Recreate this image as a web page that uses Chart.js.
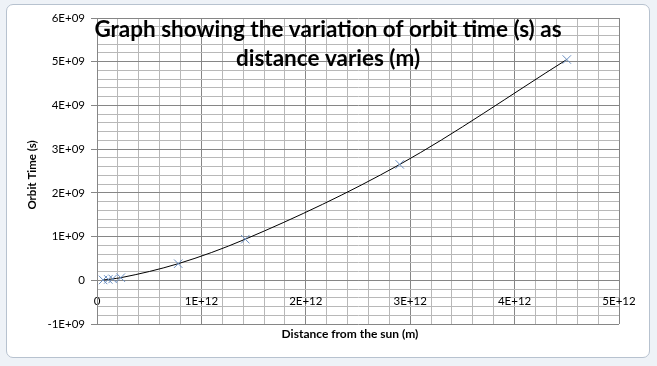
<!DOCTYPE html>
<html>
<head>
<meta charset="utf-8">
<script src="https://cdn.jsdelivr.net/npm/chart.js@4.4.1/dist/chart.umd.min.js"></script>
<style>
  html, body { margin: 0; padding: 0; }
  body { width: 657px; height: 366px; background: #eef2f7; position: relative; overflow: hidden; }
  .frame {
    position: absolute; left: 6px; top: 4px; width: 642px; height: 352px;
    background: #fff; border: 1px solid #b7c2cf; border-radius: 7px;
  }
  canvas { position: absolute; left: 0; top: 0; }
</style>
</head>
<body>
<div class="frame"></div>
<canvas id="chart" width="657" height="366"></canvas>
<script>
// planets: distance from the sun (m) and orbit time (s)
const distances = [5.79e10, 1.08e11, 1.50e11, 2.28e11, 7.78e11, 1.42e12, 2.90e12, 4.50e12];
const orbitTimes = [7.6e6, 1.94e7, 3.16e7, 5.94e7, 3.8e8, 9.4e8, 2.65e9, 5.05e9];

const titleLines = ['Graph showing the variation of orbit time (s) as', 'distance varies (m)'];
const xTitle = 'Distance from the sun (m)';
const yTitle = 'Orbit Time (s)';

const MAJOR = '#868686';
const MINOR = '#b8b8b8';

const isMajor = (v, unit) => Math.abs(v / unit - Math.round(v / unit)) < 1e-6;
const fmt = (v, unit, exp) => {
  const n = Math.round(v / unit);
  return n === 0 ? '0' : n + 'E+' + exp;
};

const overlayText = {
  id: 'overlayText',
  afterDraw(chart) {
    const { ctx, chartArea } = chart;
    const cx = (chartArea.left + chartArea.right) / 2;
    ctx.save();
    ctx.fillStyle = '#000';
    ctx.textAlign = 'center';
    ctx.textBaseline = 'alphabetic';
    ctx.font = 'bold 22.5px Lato';
    titleLines.forEach((t, i) => ctx.fillText(t, cx - 30, 37 + i * 29));

    ctx.font = 'bold 12px Lato';
    ctx.textBaseline = 'middle';
    ctx.fillText(xTitle, cx - 8, 334);

    ctx.translate(32, (chartArea.top + chartArea.bottom) / 2 + 4);
    ctx.rotate(-Math.PI / 2);
    ctx.font = 'bold 11.5px Lato';
    ctx.fillText(yTitle, 0, 0);
    ctx.restore();
  }
};

new Chart(document.getElementById('chart'), {
  type: 'scatter',
  data: {
    datasets: [{
      label: 'Orbit time',
      data: distances.map((d, i) => ({ x: d, y: orbitTimes[i] })),
      showLine: true,
      borderColor: '#000',
      borderWidth: 1,
      cubicInterpolationMode: 'monotone',
      pointStyle: 'crossRot',
      pointRadius: 6,
      pointHoverRadius: 6,
      pointBorderColor: '#6a8fc2',
      pointBackgroundColor: '#6a8fc2',
      pointBorderWidth: 1,
    }],
  },
  options: {
    responsive: false,
    animation: false,
    devicePixelRatio: 1,
    layout: { padding: { left: 0, top: 18, right: 38, bottom: 42 } },
    plugins: {
      legend: { display: false },
      tooltip: { enabled: false },
    },
    scales: {
      x: {
        type: 'linear',
        position: { y: 0 },
        min: 0,
        max: 5e12,
        ticks: {
          stepSize: 2e11,
          autoSkip: false,
          maxRotation: 0,
          padding: 9,
          color: '#000',
          font: { family: 'Lato', size: 11.5 },
          callback: (v) => (isMajor(v, 1e12) ? fmt(v, 1e12, '12') : ''),
        },
        grid: {
          color: (c) => (c.tick && isMajor(c.tick.value, 1e12) ? MAJOR : MINOR),
          tickColor: (c) => (c.tick && isMajor(c.tick.value, 1e12) ? MAJOR : 'rgba(0,0,0,0)'),
          tickLength: 5,
        },
        border: { color: MAJOR },
      },
      y: {
        min: -1e9,
        max: 6e9,
        afterFit: (scale) => { scale.width = 97; },
        ticks: {
          stepSize: 2e8,
          autoSkip: false,
          padding: 6,
          color: '#000',
          font: { family: 'Lato', size: 11.5 },
          callback: (v) => (isMajor(v, 1e9) ? fmt(v, 1e9, '09') : ''),
        },
        grid: {
          color: (c) => (c.tick && isMajor(c.tick.value, 1e9) ? MAJOR : MINOR),
          tickColor: (c) => (c.tick && isMajor(c.tick.value, 1e9) ? MAJOR : 'rgba(0,0,0,0)'),
          tickLength: 6,
        },
        border: { color: MAJOR },
      },
    },
  },
  plugins: [overlayText],
});
</script>
</body>
</html>
